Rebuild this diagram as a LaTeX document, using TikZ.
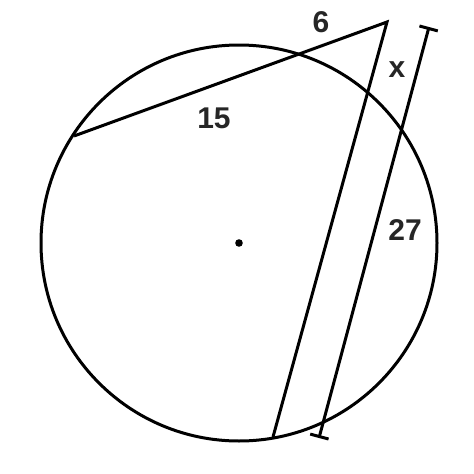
\documentclass[tikz,border=0pt]{standalone}
\usepackage{fontspec}
\setmainfont{Liberation Sans}
\usetikzlibrary{arrows.meta}
\begin{document}
\begin{tikzpicture}[x=1pt, y=-1pt, line width=3pt,
    lbl/.style={inner sep=0pt, text=black!85, font=\fontsize{30}{30}\selectfont\bfseries}]
    \useasboundingbox (0,0) rectangle (474,474);

    % Circle and its centre
    \coordinate (O) at (239,243);
    \draw (O) circle[radius=198pt];
    \fill (O) circle[radius=3.8pt];

    % Outside point and the two secants
    \coordinate (P) at (387,22);
    \coordinate (A) at (74,136);
    \coordinate (B) at (273,437);
    \draw[line join=miter] (A) -- (P) -- (B);

    % Measuring bar beside the second secant
    \coordinate (T) at (429,27);
    \coordinate (S) at (319,438);
    \draw[{Bar[width=19pt]}-{Bar[width=19pt]}] (T) -- (S);

    % Labels
    \node[lbl] (six) at (321,22) {6};
    \node[lbl] (fifteen) at (214,118) {15};
    \node[lbl] (ex) at (397,70) {x};
    \node[lbl] (twentyseven) at (405,230) {27};

\end{tikzpicture}
\end{document}
